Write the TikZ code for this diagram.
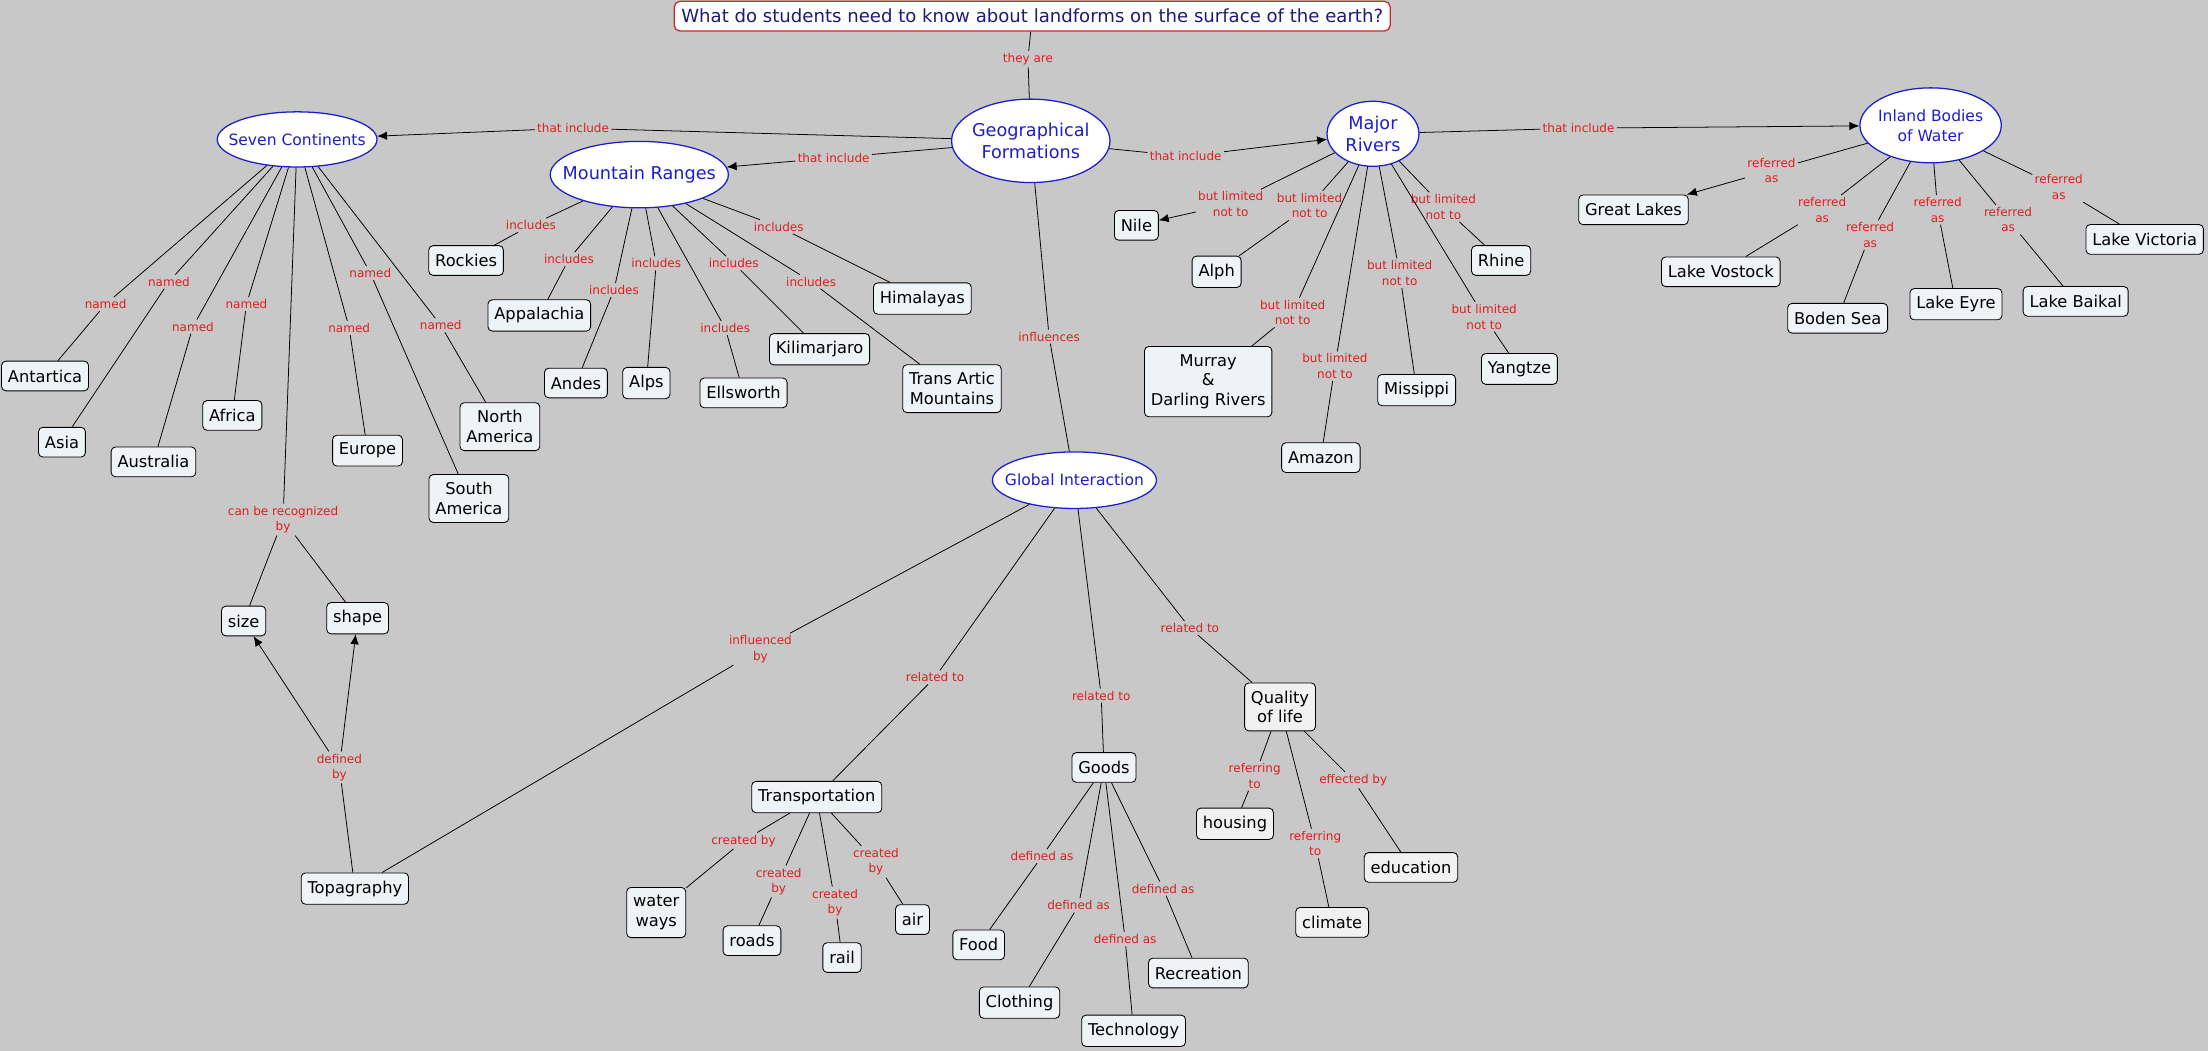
\documentclass[tikz,border=0pt]{standalone}
\usepackage{fontspec}
\setmainfont{DejaVu Sans}
\usetikzlibrary{arrows.meta, shapes.geometric}

\definecolor{bggray}{HTML}{C8C8C8}
\definecolor{itemfill}{HTML}{EEF3F5}
\definecolor{itemgray}{HTML}{F1F1F1}
\definecolor{conceptblue}{HTML}{1E1EC8}
\definecolor{linkred}{HTML}{E01E1E}
\definecolor{titlenavy}{HTML}{1C1C78}
\definecolor{titlered}{HTML}{C82828}

\tikzset{
  concept/.style={ellipse, draw=conceptblue, line width=0.9pt, fill=white,
    text=conceptblue, align=center, inner sep=-30pt},
  item/.style={rectangle, rounded corners=3pt, draw=black, line width=0.6pt,
    fill=itemfill, align=center, font=\fontsize{11.5}{14}\selectfont,
    inner xsep=4.5pt, inner ysep=5.5pt, minimum height=21pt},
  lbl/.style={text=linkred, align=center, inner sep=1.5pt,
    font=\fontsize{8.5}{11}\selectfont},
  link/.style={line width=0.55pt},
  linkarrow/.style={link, -{Latex[length=7pt,width=6pt]}}
}

\begin{document}
\begin{tikzpicture}[x=0.035cm, y=-0.035cm]
% Background
\fill[bggray] (0,0) rectangle (1568,746);
\useasboundingbox (0,0) rectangle (1568,746);

% Focus question
\node[draw=titlered, line width=0.9pt, rounded corners=4pt, fill=white, text=titlenavy,
  font=\fontsize{12.8}{15}\selectfont, inner xsep=5pt, minimum height=21pt]
  (question) at (733,11.5) {What do students need to know about landforms on the surface of the earth?};

% Main concepts
\node[concept, minimum width=112pt, minimum height=59pt, font=\fontsize{12.5}{15}\selectfont]
  (geo) at (732,100) {Geographical\\Formations};
\node[concept, minimum width=113pt, minimum height=39pt, font=\fontsize{11}{13}\selectfont]
  (seven) at (211,99) {Seven Continents};
\node[concept, minimum width=126pt, minimum height=47pt, font=\fontsize{12.5}{15}\selectfont]
  (mountain) at (454,124) {Mountain Ranges};
\node[concept, minimum width=65pt, minimum height=46pt, font=\fontsize{12.5}{15.5}\selectfont]
  (rivers) at (975,95) {Major\\Rivers};
\node[concept, minimum width=100pt, minimum height=53pt, font=\fontsize{11}{14}\selectfont]
  (inland) at (1371,89) {Inland Bodies\\of Water};
\node[concept, minimum width=116pt, minimum height=40pt, font=\fontsize{11}{13}\selectfont]
  (global) at (763,341) {Global Interaction};

% Continents
\node[item] (antartica) at (32,267) {Antartica};
\node[item] (asia) at (44,314) {Asia};
\node[item] (australia) at (109,328) {Australia};
\node[item] (africa) at (165,295) {Africa};
\node[item] (europe) at (261,320) {Europe};
\node[item] (northam) at (355,303) {North\\America};
\node[item] (southam) at (333,354) {South\\America};
\node[item] (size) at (173,441) {size};
\node[item] (shape) at (254,439) {shape};
\node[item] (topagraphy) at (252,631) {Topagraphy};

% Mountains
\node[item] (rockies) at (331,185) {Rockies};
\node[item] (appalachia) at (383,224) {Appalachia};
\node[item] (andes) at (409,272) {Andes};
\node[item] (alps) at (459,272) {Alps};
\node[item] (ellsworth) at (528,279) {Ellsworth};
\node[item] (kilimarjaro) at (582,248) {Kilimarjaro};
\node[item] (transartic) at (676,276) {Trans Artic\\Mountains};
\node[item] (himalayas) at (655,212) {Himalayas};

% Rivers
\node[item] (nile) at (807,160) {Nile};
\node[item] (alph) at (864,193) {Alph};
\node[item] (murray) at (858,271) {Murray\\\&\\Darling Rivers};
\node[item] (amazon) at (938,325) {Amazon};
\node[item] (missippi) at (1006,277) {Missippi};
\node[item] (rhine) at (1066,185) {Rhine};
\node[item] (yangtze) at (1079,262) {Yangtze};

% Lakes
\node[item] (greatlakes) at (1160,149) {Great Lakes};
\node[item] (vostock) at (1222,193) {Lake Vostock};
\node[item] (boden) at (1305,226) {Boden Sea};
\node[item] (eyre) at (1389,216) {Lake Eyre};
\node[item] (baikal) at (1474,214) {Lake Baikal};
\node[item] (victoria) at (1523,170) {Lake Victoria};

% Global interaction
\node[item] (transport) at (580,566) {Transportation};
\node[item] (waterways) at (466,648) {water\\ways};
\node[item] (roads) at (534,668) {roads};
\node[item] (rail) at (598,680) {rail};
\node[item] (air) at (648,653) {air};
\node[item] (goods) at (784,545) {Goods};
\node[item] (food) at (695,671) {Food};
\node[item] (clothing) at (724,712) {Clothing};
\node[item] (technology) at (805,732) {Technology};
\node[item] (recreation) at (851,691) {Recreation};
\node[item, fill=itemgray] (quality) at (909,502) {Quality\\of life};
\node[item, fill=itemgray] (housing) at (877,585) {housing};
\node[item, fill=itemgray] (education) at (1002,616) {education};
\node[item, fill=itemgray] (climate) at (946,655) {climate};

% Linking phrases
\node[lbl] (theyare) at (730,42) {they are};
\node[lbl] (inclSeven) at (407,91) {that include};
\node[lbl] (inclMount) at (592,112) {that include};
\node[lbl] (inclRivers) at (842,111) {that include};
\node[lbl] (inclInland) at (1121,91) {that include};
\node[lbl] (influences) at (745,239) {influences};

\node[lbl] (nAnt) at (75,216) {named};
\node[lbl] (nAsia) at (120,200) {named};
\node[lbl] (nAus) at (137,232) {named};
\node[lbl] (nAfr) at (175,216) {named};
\node[lbl] (nEur) at (248,233) {named};
\node[lbl] (nSouth) at (263,194) {named};
\node[lbl] (nNorth) at (313,231) {named};
\node[lbl] (recog) at (201,369) {can be recognized\\by};
\node[lbl] (defBy) at (241,545) {defined\\by};

\node[lbl] (iRock) at (377,160) {includes};
\node[lbl] (iApp) at (404,184) {includes};
\node[lbl] (iAndes) at (436,206) {includes};
\node[lbl] (iAlps) at (466,187) {includes};
\node[lbl] (iEll) at (515,233) {includes};
\node[lbl] (iKili) at (521,187) {includes};
\node[lbl] (iTrans) at (576,200) {includes};
\node[lbl] (iHim) at (553,161) {includes};

\node[lbl] (bNile) at (874,145) {but limited\\not to};
\node[lbl] (bAlph) at (930,146) {but limited\\not to};
\node[lbl] (bMurray) at (918,222) {but limited\\not to};
\node[lbl] (bAmazon) at (948,260) {but limited\\not to};
\node[lbl] (bMiss) at (994,194) {but limited\\not to};
\node[lbl] (bYang) at (1054,225) {but limited\\not to};
\node[lbl] (bRhine) at (1025,147) {but limited\\not to};

\node[lbl] (rGreat) at (1258,121) {referred\\as};
\node[lbl] (rVost) at (1294,149) {referred\\as};
\node[lbl] (rBoden) at (1328,167) {referred\\as};
\node[lbl] (rEyre) at (1376,149) {referred\\as};
\node[lbl] (rBaikal) at (1426,156) {referred\\as};
\node[lbl] (rVict) at (1462,133) {referred\\as};

\node[lbl] (infBy) at (540,461) {influenced\\by};
\node[lbl] (relTrans) at (664,481) {related to};
\node[lbl] (relGoods) at (782,494) {related to};
\node[lbl] (relQual) at (845,446) {related to};

\node[lbl] (cWater) at (528,597) {created by};
\node[lbl] (cRoads) at (553,626) {created\\by};
\node[lbl] (cRail) at (593,641) {created\\by};
\node[lbl] (cAir) at (622,612) {created\\by};

\node[lbl] (dFood) at (740,608) {defined as};
\node[lbl] (dCloth) at (766,643) {defined as};
\node[lbl] (dTech) at (799,667) {defined as};
\node[lbl] (dRec) at (826,631) {defined as};

\node[lbl] (refHouse) at (891,551) {referring\\to};
\node[lbl] (refClim) at (934,599) {referring\\to};
\node[lbl] (effEdu) at (961,554) {effected by};

% Top level links
\draw[link] (question) -- (theyare);
\draw[link] (theyare) -- (geo);
\draw[link] (geo) -- (inclSeven);
\draw[linkarrow] (inclSeven) -- (seven);
\draw[link] (geo) -- (inclMount);
\draw[linkarrow] (inclMount) -- (mountain);
\draw[link] (geo) -- (inclRivers);
\draw[linkarrow] (inclRivers) -- (rivers);
\draw[link] (rivers) -- (inclInland);
\draw[linkarrow] (inclInland) -- (inland);
\draw[link] (geo) -- (influences);
\draw[link] (influences) -- (global);

% Fans out of each concept
\foreach \via/\to in {nAnt/antartica, nAsia/asia, nAus/australia, nAfr/africa,
    nEur/europe, nSouth/southam, nNorth/northam}
  {\draw[link] (seven) -- (\via); \draw[link] (\via) -- (\to);}
\draw[link] (seven) -- (recog);
\draw[link] (recog) -- (size);
\draw[link] (recog) -- (shape);

\foreach \via/\to in {iRock/rockies, iApp/appalachia, iAndes/andes, iAlps/alps,
    iEll/ellsworth, iKili/kilimarjaro, iTrans/transartic, iHim/himalayas}
  {\draw[link] (mountain) -- (\via); \draw[link] (\via) -- (\to);}

\foreach \via/\to in {bAlph/alph, bMurray/murray, bAmazon/amazon, bMiss/missippi,
    bYang/yangtze, bRhine/rhine}
  {\draw[link] (rivers) -- (\via); \draw[link] (\via) -- (\to);}
\draw[link] (rivers) -- (bNile);
\draw[linkarrow] (bNile) -- (nile);

\foreach \via/\to in {rVost/vostock, rBoden/boden, rEyre/eyre, rBaikal/baikal,
    rVict/victoria}
  {\draw[link] (inland) -- (\via); \draw[link] (\via) -- (\to);}
\draw[link] (inland) -- (rGreat);
\draw[linkarrow] (rGreat) -- (greatlakes);

\foreach \via/\to in {infBy/topagraphy, relTrans/transport, relGoods/goods,
    relQual/quality}
  {\draw[link] (global) -- (\via); \draw[link] (\via) -- (\to);}

% Topography defines size and shape
\draw[link] (topagraphy) -- (defBy);
\draw[linkarrow] (defBy) -- (size);
\draw[linkarrow] (defBy) -- (shape);

\foreach \via/\to in {cWater/waterways, cRoads/roads, cRail/rail, cAir/air}
  {\draw[link] (transport) -- (\via); \draw[link] (\via) -- (\to);}
\foreach \via/\to in {dFood/food, dCloth/clothing, dTech/technology, dRec/recreation}
  {\draw[link] (goods) -- (\via); \draw[link] (\via) -- (\to);}
\foreach \via/\to in {refHouse/housing, refClim/climate, effEdu/education}
  {\draw[link] (quality) -- (\via); \draw[link] (\via) -- (\to);}
\end{tikzpicture}
\end{document}
